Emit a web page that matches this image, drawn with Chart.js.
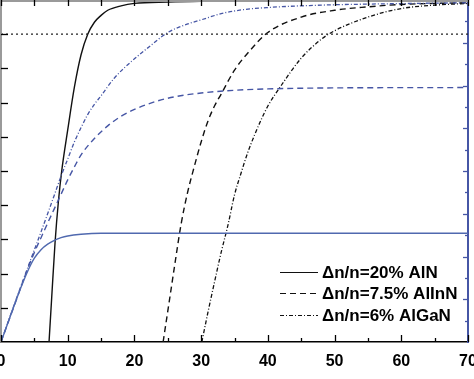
<!DOCTYPE html>
<html><head><meta charset="utf-8">
<script src="https://cdn.jsdelivr.net/npm/chart.js@4.4.1/dist/chart.umd.min.js"></script>
<style>html,body{margin:0;padding:0;background:#fff}canvas{display:block}</style>
</head><body>
<canvas id="c" width="474" height="379"></canvas>
<script>
// ---- data ----
const xTickValues = [0,10,20,30,40,50,60,70];
const legendLabels = ['\u0394n/n=20% AlN','\u0394n/n=7.5% AlInN','\u0394n/n=6% AlGaN'];

const alnX  = [7.2,7.6,8.1,8.6,9.1,10,11,12,13,14,15,16,18,20,25,30,40,70];
const alnY  = [0,1.3,2.9,4.1,5.0,6.2,7.45,8.4,9.0,9.35,9.55,9.7,9.83,9.9,9.94,9.96,9.97,9.98];

const allnX = [24.3,25,26,27,28,29,30,31,32,33,35,37,40,45,50,55,60,70];
const allnY = [0,0.9,2.2,3.45,4.4,5.15,5.85,6.45,6.9,7.25,7.95,8.45,9.05,9.5,9.7,9.8,9.87,9.92];

const algaX = [30.1,31,32,33,34,35,36,37,38,39,40,42,45,48,50,55,60,65,70];
const algaY = [0,0.85,1.75,2.62,3.4,4.3,4.95,5.55,6.05,6.5,6.9,7.5,8.3,8.85,9.1,9.5,9.75,9.85,9.9];

const blueSolidX = [0,1,2,3,4,5,6,7,8,9,10,12,15,20,70];
const blueSolidY = [0,0.54,1.08,1.6,2.07,2.45,2.7,2.86,2.97,3.05,3.1,3.15,3.18,3.18,3.18];

const blueDashX = [0,2,4,5,6,7,8,9,10,11,12,14,16,18,20,23,26,30,35,40,50,70];
const blueDashY = [0,1.07,2.14,2.62,3.05,3.48,3.9,4.32,4.74,5.12,5.47,5.95,6.32,6.6,6.8,7.02,7.17,7.28,7.36,7.4,7.43,7.44];

const blueDotX = [0,2,4,6,8,9,10,11,12,13,14,15,17,20,22,25,28,30,33,36,40,48,55,70];
const blueDotY = [0,1.1,2.17,3.22,4.3,4.85,5.35,5.85,6.27,6.65,6.95,7.2,7.72,8.28,8.6,9.05,9.3,9.42,9.6,9.71,9.78,9.85,9.88,9.92];

const refLineX = [0,70];
const refLineY = [9.0,9.0];

// ---- build ----
const pts = (xs, ys) => xs.map((x,i)=>({x, y: ys[i]}));
const BLUE = 'rgb(70,86,165)';
const BLUE2 = 'rgb(80,105,175)';
const dashA = [6,4];
const dashDot = [4,2,1,2];

function ds(label, xs, ys, color, dash, w){
  return {label, data: pts(xs, ys), borderColor: color, borderWidth: w||1.4,
    borderDash: dash, pointRadius: 0, fill: false, cubicInterpolationMode: 'monotone',
    xAxisID: 'x', yAxisID: 'y'};
}

const datasets = [
  ds('ref', refLineX, refLineY, '#222', [2,3], 1.3),
  ds('blueSolid', blueSolidX, blueSolidY, BLUE2, [], 1.4),
  ds('blueDash', blueDashX, blueDashY, BLUE, dashA, 1.4),
  ds('blueDot', blueDotX, blueDotY, BLUE, dashDot, 1.3),
  ds(legendLabels[0], alnX, alnY, '#111', [], 1.4),
  ds(legendLabels[1], allnX, allnY, '#111', dashA, 1.4),
  ds(legendLabels[2], algaX, algaY, '#111', dashDot, 1.3)
];
const legendDash = [[], dashA, dashDot];

const FONT = '"Liberation Sans", Arial, sans-serif';

const deco = {
  id: 'deco',
  afterDraw(chart){
    const {ctx, chartArea: a, scales} = chart;
    const x = scales.x, y = scales.y, y2 = scales.y2;
    ctx.save();
    // gray left / top borders
    ctx.strokeStyle = '#9a9a9a'; ctx.lineWidth = 2;
    ctx.beginPath(); ctx.moveTo(a.left, a.bottom); ctx.lineTo(a.left, a.top+1); ctx.lineTo(a.right, a.top+1); ctx.stroke();
    // bottom ticks
    ctx.strokeStyle = '#000'; ctx.lineWidth = 1.3;
    for (let v = 0; v <= 70; v += 5) {
      const px = Math.round(x.getPixelForValue(v)) + 0.5;
      const len = (v % 10 === 0) ? 7 : 4;
      ctx.beginPath(); ctx.moveTo(px, a.bottom); ctx.lineTo(px, a.bottom - len); ctx.stroke();
      // top ticks
      ctx.beginPath(); ctx.moveTo(px, a.top); ctx.lineTo(px, a.top + 6); ctx.stroke();
    }
    // left ticks
    for (let v = 1; v <= 9; v++) {
      const py = Math.round(y.getPixelForValue(v)) + 0.5;
      ctx.beginPath(); ctx.moveTo(a.left, py); ctx.lineTo(a.left + 7, py); ctx.stroke();
    }
    // right ticks (blue)
    ctx.strokeStyle = BLUE;
    for (let v = 1; v <= 15; v++) {
      const py = Math.round(y2.getPixelForValue(v)) + 0.5;
      const len = (v % 2 === 0) ? 5 : 3;
      ctx.beginPath(); ctx.moveTo(a.right, py); ctx.lineTo(a.right - len, py); ctx.stroke();
    }
    // legend
    const rows = [272, 293, 315];
    ctx.font = 'bold 17px ' + FONT;
    ctx.textBaseline = 'middle'; ctx.textAlign = 'left';
    for (let i = 0; i < 3; i++) {
      ctx.strokeStyle = '#111'; ctx.lineWidth = 1.2;
      ctx.setLineDash(legendDash[i]);
      ctx.beginPath(); ctx.moveTo(280, rows[i] + 0.5); ctx.lineTo(318, rows[i] + 0.5); ctx.stroke();
      ctx.setLineDash([]);
      ctx.fillStyle = '#000';
      ctx.fillText(legendLabels[i], 322, rows[i] + 1);
    }
    ctx.restore();
  }
};

new Chart(document.getElementById('c'), {
  type: 'line',
  data: { datasets },
  options: {
    responsive: false, animation: false, devicePixelRatio: 1,
    layout: { padding: 0 },
    plugins: { legend: { display: false }, tooltip: { enabled: false } },
    scales: {
      x: {
        type: 'linear', position: 'bottom', min: 0, max: 70,
        afterBuildTicks: s => { s.ticks = xTickValues.map(v => ({value: v})); },
        ticks: { color: '#000', font: { family: FONT, size: 16, weight: 'bold' }, padding: 10, maxRotation: 0, autoSkip: false },
        grid: { display: false, drawTicks: false },
        border: { display: true, color: '#000', width: 1.5 },
        afterFit: s => { s.height = 37; s.paddingLeft = 0; s.paddingRight = 0; }
      },
      y: {
        type: 'linear', position: 'left', min: 0, max: 10,
        ticks: { display: false }, grid: { display: false, drawTicks: false },
        border: { display: false },
        afterFit: s => { s.width = 1; s.paddingTop = 0; s.paddingBottom = 0; }
      },
      y2: {
        type: 'linear', position: 'right', min: 0, max: 16,
        ticks: { display: false }, grid: { display: false, drawTicks: false },
        border: { display: true, color: BLUE, width: 2 },
        afterFit: s => { s.width = 6; s.paddingTop = 0; s.paddingBottom = 0; }
      }
    }
  },
  plugins: [deco]
});
</script>
</body></html>
